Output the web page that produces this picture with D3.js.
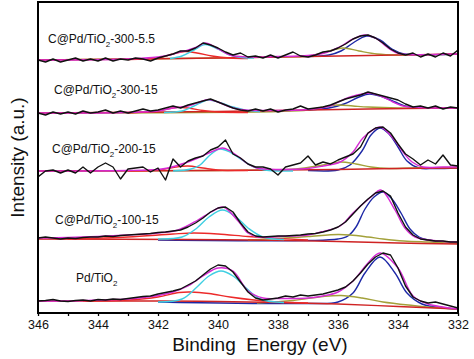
<!DOCTYPE html>
<html>
<head>
<meta charset="utf-8">
<script src="https://cdn.jsdelivr.net/npm/d3@7"></script>
<style>
body { margin: 0; background: #fff; }
text { font-family: Arial, "Liberation Sans", sans-serif; fill: #111; }
.line { fill: none; stroke-width: 1.4; stroke-linejoin: round; }
</style>
</head>
<body>
<div class="xpsRender"></div>
<script>
// spectra, top to bottom
var samples = ["C@Pd/TiO2-300-5.5", "C@Pd/TiO2-300-15", "C@Pd/TiO2-200-15", "C@Pd/TiO2-100-15", "Pd/TiO2"];
var offsets = [253, 200, 142, 74, 12];

// raw counts, 346 -> 332 eV every 0.25 eV (relative to each offset)
var rawBE = d3.range(346, 331.99, -0.25);
var rawE = [0,-2,1,-2,0,2,-1,1,-1,2,-1,1,0,2,1,-1,2,4,6,9,9,12,17,15,12,8,5,7,3,4,2,5,2,5,8,4,3,5,8,9,12,16,21,24,25,22,17,11,7,5,7,3,6,3,7,4,10];
var rawD = [0,-2,1,-1,1,-1,2,0,1,3,0,2,0,2,4,2,3,5,7,5,8,10,12,14,11,8,5,3,2,4,2,4,1,3,4,7,4,5,6,8,11,14,16,18,21,19,17,15,13,9,6,7,5,7,4,6,5];
var rawC = [-6,0,1,-2,1,-2,4,-2,4,8,4,-8,2,3,4,-1,3,-9,12,4,10,13,15,21,24,31,17,13,7,4,4,2,-4,4,6,8,15,6,9,7,11,14,17,24,38,43,44,38,27,17,12,6,11,7,16,6,5];
var rawB = [1,2,1,0,1,0.5,1.5,2,2,3,2.5,3.5,4,4.5,5,5.5,6.5,7,8,9,12,16,21,27,31,32,27,16,7,3,2,2.5,3,3,3.5,4,5,5.5,7,9,12,17,25,33,40,46,48,43,26,12,4,0,-1,-2,-2,-3,-3];
var rawA = [0,0.5,1.5,0,-0.5,0.5,1,0,1.5,1,2,1.5,2.5,3.5,4.5,5,7,8.5,10,12,16,20,26,32,36,35,29,19,9,3,1,2,3,5,4,6,5,6,7,9,11,14,20,28,37,44,48,46,33,15,4,0,-2,-1,-3,-5,-7];

// fitted envelope [eV, value]
var envE = [[346,0],[343,1],[342,3],[341.6,5],[341.27,8],[341.04,9.5],[340.7,13],[340.43,17],[340.04,12],[339.6,5],[339,3],[338,3.5],[337,4.5],[336.5,6.5],[336.17,10],[335.83,15],[335.5,21],[335.1,25],[334.7,21],[334.37,13],[334.03,7],[333.7,5.5],[332,6]];
var envD = [[346,0],[343,0.5],[342,2],[341.5,5],[341,7],[340.6,11],[340.33,13.5],[340,11],[339.6,6],[339.27,3.5],[338.5,2.5],[337,3.5],[336.27,7],[335.93,12],[335.6,16],[335.1,19.5],[334.93,20],[334.5,16],[334.17,11],[333.83,7],[333.3,5.5],[332,5]];
var envC = [[346,0],[343,0.5],[342,1.5],[341.67,3],[341.1,8],[340.67,13],[340.23,19],[339.85,23],[339.6,20],[339.3,14],[339,7],[338.7,3],[338,1.5],[337,2.5],[336.5,5],[335.93,9],[335.5,19],[335.17,33],[334.6,44],[334.17,33],[333.83,19],[333.53,9],[333.17,4],[332.5,4],[332,4]];
var envB = [[346,1],[345,1.5],[344,2.5],[343,4],[342,6],[341.33,9],[340.67,19],[340.23,27],[339.83,32],[339.33,18],[339,6],[338.67,2],[338,2.5],[337,4],[336.57,7],[335.93,13],[335.5,26],[334.9,42],[334.57,49],[334.1,29],[333.77,11],[333.43,2],[332.67,-2],[332,-3]];
var envA = [[346,0],[345,0],[344.5,0.5],[344,1],[343,2],[342.5,3.5],[342,5.5],[341.5,9],[341,15],[340.5,25],[340,33],[339.5,30],[339,10],[338.5,3],[338,2.5],[337.5,2.5],[337,3],[336.5,5],[336,9],[335.5,20],[335,38],[334.6,48],[334,33],[333.5,5],[333,-3],[332.5,-6],[332,-8]];

// background
var bgE = [[346,0],[340,2],[337,3.5],[335,4.5],[332,6]];
var bgD = [[346,0],[340,1.5],[337,3],[335,4],[332,5]];
var bgC = [[346,0],[340,0.5],[336,1.5],[334,2.5],[332,3]];
var bgB = [[346,0],[341,-0.5],[339,-1],[336,-2.5],[334,-4],[332,-5]];
var bgA = [[346,0],[342,0],[340,-0.5],[338,-1.5],[336,-3],[334,-5.5],[332,-8]];

// Pd2+ 3d5/2 (olive)
var oliveE = [[346,0],[340,2],[338,3],[337,4],[336.3,9],[335.83,12],[335.3,9],[334.7,6],[334,5],[332,6]];
var oliveD = [[346,0],[338,1.5],[337,3],[336.4,6.5],[336,8],[335.5,7],[335,6],[334,5],[332,5]];
var oliveC = [[346,0],[340,0.5],[338.5,1],[337.4,2],[336.5,6],[335.93,9],[335.4,7],[334.9,4],[334.3,2.5],[333.5,3],[332,3.5]];
var oliveB = [[339,-1],[338,0.5],[337,2.5],[336,4.5],[335.6,4],[335,2],[334.5,0],[333.8,-2],[333,-3],[332,-4]];
var oliveA = [[338.7,-2],[337.5,0.5],[336.5,4.5],[335.9,5.5],[335.2,3],[334.5,-1],[333.5,-4.5],[332.8,-6.5],[332,-8]];

// Pd2+ 3d3/2 (red)
var redE = [[343,0.5],[342,2],[341.5,6],[341.1,8.5],[340.7,7],[340.2,4],[339.6,2],[339,1.5]];
var redD = [[343,0],[342,2],[341.4,5.5],[341,5],[340.5,2.5],[340,1],[339,0.5]];
var redC = [[343,0],[342,1],[341.5,3.5],[341,5],[340.5,3],[340,1],[339,0.5]];
var redB = [[345,0],[343,2],[341.5,5],[340.8,6],[340,5],[339,2.5],[338,0.5],[337,-1]];
var redA = [[344.5,0],[343,1],[342,4],[341.3,8.5],[340.9,9],[340.3,7.5],[339.6,4],[338.8,1],[338,-1],[337,-2]];

// Pd0 3d3/2 (cyan)
var cyanE = [[341.6,1.5],[341.2,4],[340.8,10],[340.43,15.5],[340,11],[339.6,5],[339.2,2.5],[338.8,2]];
var cyanD = [[341.8,0.5],[341.2,2],[340.8,7],[340.33,13],[339.9,10],[339.5,6],[339.1,3],[338.6,1.5]];
var cyanC = [[341.5,0],[340.9,2],[340.6,6],[340.3,15],[339.95,22],[339.6,19],[339.2,11],[338.8,4],[338.3,0.5],[337.5,0]];
var cyanB = [[342,0],[341.2,2],[340.7,11],[340.3,22],[339.85,29],[339.4,22],[339,11],[338.5,2],[337.8,-0.5]];
var cyanA = [[342,-1],[341.2,2],[340.7,14],[340.3,25],[339.9,30],[339.5,25],[339.1,14],[338.6,2],[337.8,-1.5]];

// Pd0 3d5/2 (blue)
var blueE = [[337,3.5],[336.3,5],[335.9,9],[335.5,17],[335.05,24],[334.6,20],[334.2,11],[333.8,6],[333.4,5],[332,6]];
var blueD = [[337,3],[336.3,5],[335.8,9],[335.3,16],[334.95,19],[334.5,16],[334.1,11],[333.7,6.5],[333.3,5],[332,5]];
var blueC = [[337,0.5],[336,1],[335.6,6],[335.2,20],[334.9,36],[334.6,43],[334.3,37],[334,24],[333.7,10],[333.3,3],[332.8,2.5],[332,3]];
var blueB = [[342,-1],[337,-1.5],[336,0],[335.67,3],[335.4,12],[335.1,30],[334.8,42],[334.5,47],[334.2,40],[333.9,26],[333.6,10],[333.3,2],[333,-1],[332,-4]];
var blueA = [[342,-1],[337,-2.5],[336,-1],[335.5,8],[335.1,28],[334.6,44],[334.1,28],[333.7,8],[333.2,-3],[332.5,-7],[332,-8]];

var raws = [rawE, rawD, rawC, rawB, rawA];
var fits = [
    {bg: bgE, olive: oliveE, red: redE, cyan: cyanE, blue: blueE, env: envE},
    {bg: bgD, olive: oliveD, red: redD, cyan: cyanD, blue: blueD, env: envD},
    {bg: bgC, olive: oliveC, red: redC, cyan: cyanC, blue: blueC, env: envC},
    {bg: bgB, olive: oliveB, red: redB, cyan: cyanB, blue: blueB, env: envB},
    {bg: bgA, olive: oliveA, red: redA, cyan: cyanA, blue: blueA, env: envA}
];

var xTicks = [346, 344, 342, 340, 338, 336, 334, 332];

// layout
var margin = {top: 2, right: 16, bottom: 46, left: 38},
    width = 474 - margin.left - margin.right,
    height = 359 - margin.top - margin.bottom;

var colors = {bg: "#cf2323", olive: "#a3a13a", red: "#ec2a2a", cyan: "#3fcfe2", blue: "#1d28a6", env: "#d62ad4"};
var labelPos = [[10, 41], [16, 92], [14, 151], [17, 222], [38, 280]];

var x = d3.scaleLinear().domain([346, 332]).range([0, width]);
var y = d3.scaleLinear().domain([0, height]).range([height, 0]);

var svg = d3.select(".xpsRender").append("svg")
    .attr("width", width + margin.left + margin.right)
    .attr("height", height + margin.top + margin.bottom)
    .append("g")
    .attr("transform", "translate(" + margin.left + "," + margin.top + ")");

svg.append("clipPath").attr("id", "clip")
    .append("rect").attr("width", width).attr("height", height);

var plot = svg.append("g").attr("clip-path", "url(#clip)");

samples.forEach(function(name, i) {
    var off = offsets[i];
    var fitLine = d3.line()
        .curve(d3.curveCatmullRom.alpha(0.5))
        .x(function(d) { return x(d[0]); })
        .y(function(d) { return y(off + d[1]); });
    var rawLine = d3.line()
        .x(function(d, j) { return x(rawBE[j]); })
        .y(function(d) { return y(off + d); });

    var g = plot.append("g");
    // blue sits under the background line at the flat parts
    ["blue", "olive", "bg", "red", "cyan"].forEach(function(k) {
        g.append("path").attr("class", "line")
            .attr("d", fitLine(fits[i][k]))
            .attr("stroke", colors[k]);
    });
    g.append("path").attr("class", "line")
        .attr("d", fitLine(fits[i].env))
        .attr("stroke", colors.env);
    g.append("path").attr("class", "line")
        .attr("d", rawLine(raws[i]))
        .attr("stroke", "#111").attr("stroke-width", 1.2);

    // sample label with subscript 2
    var parts = name.split("TiO2");
    var t = svg.append("text")
        .attr("x", labelPos[i][0]).attr("y", labelPos[i][1])
        .style("font-size", "12px");
    t.append("tspan").text(parts[0] + "TiO");
    t.append("tspan").text("2").attr("dy", 4).style("font-size", "8px");
    t.append("tspan").text(parts[1]).attr("dy", -4);
});

// frame
svg.append("rect")
    .attr("width", width).attr("height", height)
    .attr("fill", "none").attr("stroke", "#000").attr("stroke-width", 2);

// x axis
var xAxis = d3.axisBottom(x).tickValues(d3.range(346, 331.5, -1))
    .tickSize(3).tickFormat(function(d) { return xTicks.indexOf(d) >= 0 ? d : ""; });

var gx = svg.append("g")
    .attr("transform", "translate(0," + height + ")")
    .call(xAxis);
gx.select(".domain").remove();
gx.selectAll(".tick line").attr("stroke", "#000").attr("stroke-width", 1.3);
gx.selectAll(".tick text").attr("y", 7).style("font-size", "12.5px")
    .style("font-family", "Arial, 'Liberation Sans', sans-serif").attr("fill", "#111");

// axis titles
svg.append("text")
    .text("Binding  Energy (eV)")
    .style("font-size", "19px").style("white-space", "pre")
    .attr("text-anchor", "middle")
    .attr("transform", "translate(" + (width / 2 + 12) + "," + (height + 38) + ")");

svg.append("text")
    .text("Intensity (a.u.)")
    .style("font-size", "19px")
    .attr("text-anchor", "middle")
    .attr("transform", "translate(-14," + (height / 2) + ") rotate(-90)");
</script>
</body>
</html>
